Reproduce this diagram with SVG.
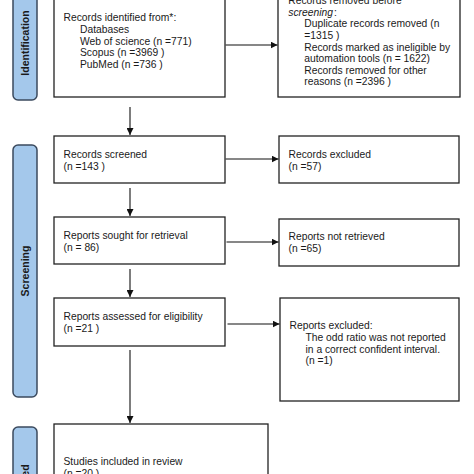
<svg xmlns="http://www.w3.org/2000/svg" width="474" height="474" viewBox="0 0 474 474">
<defs>
<marker id="ah" viewBox="0 0 10 10" refX="10" refY="5" markerWidth="7" markerHeight="7" markerUnits="userSpaceOnUse" orient="auto">
<path d="M0,0 L10,5 L0,10 z" fill="#111"/>
</marker>
<style>
.box{fill:#fff;stroke:#222;stroke-width:1.3}
.bar{fill:#a4c8eb;stroke:#3b4a5e;stroke-width:1.5}
.t{font-family:"Liberation Sans",Arial,sans-serif;font-size:10.3px;fill:#1a1a1a}
.i{font-style:italic}
.lbl{font-family:"Liberation Sans",Arial,sans-serif;font-size:10.5px;font-weight:bold;fill:#1a1a1a;text-anchor:middle}
.c{stroke:#111;stroke-width:1.1;fill:none;marker-end:url(#ah)}
</style>
</defs>
<rect width="474" height="474" fill="#fff"/>
<g id="bar-identification">
<rect class="bar" x="13" y="-20" width="24" height="120" rx="5"/>
<text class="lbl" transform="translate(29,43) rotate(-90)">Identification</text>
</g>
<g id="bar-screening">
<rect class="bar" x="13" y="145" width="24" height="252" rx="5"/>
<text class="lbl" transform="translate(29,271) rotate(-90)">Screening</text>
</g>
<g id="bar-included">
<rect class="bar" x="13" y="427" width="24" height="120" rx="5"/>
<text class="lbl" transform="translate(29,486) rotate(-90)">Included</text>
</g>
<g id="n-identified">
<rect class="box" x="54" y="-10" width="171" height="107"/>
<text class="t" x="63.5" y="21">Records identified from*:</text>
<text class="t" x="80" y="32.8">Databases</text>
<text class="t" x="80" y="44.6">Web of science (n =771)</text>
<text class="t" x="80" y="56.4">Scopus (n =3969 )</text>
<text class="t" x="80" y="68.2">PubMed (n =736 )</text>
</g>
<g id="n-removed">
<rect class="box" x="278" y="-10" width="182" height="107"/>
<text class="t" x="288.3" y="4.1">Records removed before</text>
<text class="t i" x="288.3" y="15.7">screening</text>
<text class="t" x="334" y="15.7">:</text>
<text class="t" x="304.3" y="27.3">Duplicate records removed (n</text>
<text class="t" x="304.3" y="38.9">=1315 )</text>
<text class="t" x="304.3" y="50.5">Records marked as ineligible by</text>
<text class="t" x="304.3" y="62.1">automation tools (n = 1622)</text>
<text class="t" x="304.3" y="73.7">Records removed for other</text>
<text class="t" x="304.3" y="85.3">reasons (n =2396 )</text>
</g>
<g id="n-screened">
<rect class="box" x="54" y="136" width="171" height="47"/>
<text class="t" x="63.5" y="157.7">Records screened</text>
<text class="t" x="63.5" y="169.5">(n =143 )</text>
</g>
<g id="n-excluded">
<rect class="box" x="279" y="136" width="180" height="47"/>
<text class="t" x="288.5" y="157.7">Records excluded</text>
<text class="t" x="288.5" y="169.5">(n =57)</text>
</g>
<g id="n-sought">
<rect class="box" x="54" y="217" width="171" height="47"/>
<text class="t" x="63.5" y="239.3">Reports sought for retrieval</text>
<text class="t" x="63.5" y="251.1">(n = 86)</text>
</g>
<g id="n-notretrieved">
<rect class="box" x="279" y="219" width="180" height="47"/>
<text class="t" x="288.5" y="240">Reports not retrieved</text>
<text class="t" x="288.5" y="251.8">(n =65)</text>
</g>
<g id="n-assessed">
<rect class="box" x="54" y="298" width="171" height="48"/>
<text class="t" x="63.5" y="320">Reports assessed for eligibility</text>
<text class="t" x="63.5" y="331.8">(n =21 )</text>
</g>
<g id="n-reportsexcluded">
<rect class="box" x="280" y="298" width="179" height="103"/>
<text class="t" x="289.5" y="329.3">Reports excluded:</text>
<text class="t" x="305.5" y="341">The odd ratio was not reported</text>
<text class="t" x="305.5" y="352.6">in a correct confident interval.</text>
<text class="t" x="305.5" y="364.2">(n =1)</text>
</g>
<g id="n-included">
<rect class="box" x="54" y="424" width="214" height="80"/>
<text class="t" x="63.5" y="465">Studies included in review</text>
<text class="t" x="63.5" y="477">(n =20 )</text>
</g>
<g id="connectors">
<path class="c" d="M225.6,45 H277.5"/>
<path class="c" d="M225.6,159 H278.5"/>
<path class="c" d="M226.5,242 H278.5"/>
<path class="c" d="M227.5,324 H279.5"/>
<path class="c" d="M130,107 V135"/>
<path class="c" d="M130,188 V216"/>
<path class="c" d="M130,269 V297"/>
<path class="c" d="M130,350 V423"/>
</g>
</svg>
